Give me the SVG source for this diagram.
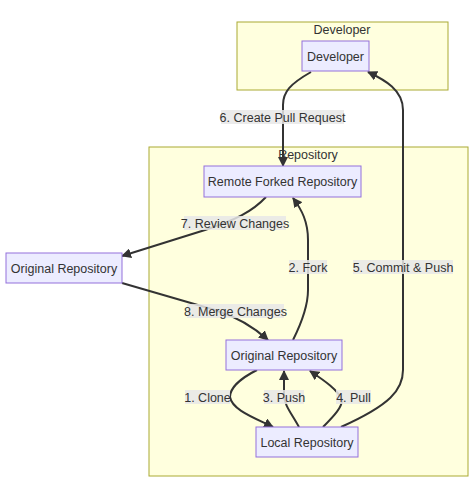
<svg xmlns="http://www.w3.org/2000/svg" width="474" height="499" viewBox="0 0 474 499">
<defs>
<marker id="arrow" viewBox="0 0 10 10" refX="9" refY="5" markerUnits="userSpaceOnUse" markerWidth="10" markerHeight="10" orient="auto">
<path d="M0,0 L10,5 L0,10 z" fill="#333333"/>
</marker>
<style>
.cluster rect{fill:#ffffde;stroke:#aaaa33;stroke-width:1}
.node rect{fill:#ECECFF;stroke:#9370DB;stroke-width:1}
text{font-family:"Liberation Sans",Arial,sans-serif;font-size:12.5px;fill:#333333}
.ctext{text-anchor:middle}
.edge{fill:none;stroke:#333333;stroke-width:2;marker-end:url(#arrow)}
.lbl rect{fill:#e8e8e8;fill-opacity:0.85}
.lbl text{text-anchor:middle}
</style>
</defs>
<rect width="474" height="499" fill="#ffffff"/>
<g id="cluster-developer" class="cluster">
<rect x="237" y="22" width="211" height="68"/>
<text class="ctext" x="342" y="34">Developer</text>
</g>
<g id="cluster-repository" class="cluster">
<rect x="149" y="147" width="319" height="329"/>
<text class="ctext" x="308" y="159">Repository</text>
</g>
<g id="connectors">
<path class="edge" d="M311,72 C290,84 283,92 283,105 L283,166"/>
<path class="edge" d="M266,197 C252,212 235,220 205,230 L122,256"/>
<path class="edge" d="M122,283 L215,310 C240,318 255,328 268,340"/>
<path class="edge" d="M293,340 C303,320 308,305 308,290 L308,240 C308,222 302,210 293,198"/>
<path class="edge" d="M341,427 C390,405 403,390 403,370 L403,110 C403,90 385,80 368,72"/>
<path class="edge" d="M257,370 C237,380 230,390 230,397 C232,410 255,418 273,427"/>
<path class="edge" d="M299,427 C292,414 284,405 284,395 L284,371"/>
<path class="edge" d="M323,427 C335,415 342,407 342,400 C338,390 325,381 310,371"/>
</g>
<g id="edge-labels">
<g class="lbl"><rect x="221" y="110" width="123" height="14"/><text x="282.5" y="121.5">6. Create Pull Request</text></g>
<g class="lbl"><rect x="184" y="216" width="102" height="14"/><text x="235" y="227.5">7. Review Changes</text></g>
<g class="lbl"><rect x="289" y="260" width="38" height="14"/><text x="308" y="271.5">2. Fork</text></g>
<g class="lbl"><rect x="353" y="260" width="100" height="14"/><text x="403" y="271.5">5. Commit &amp; Push</text></g>
<g class="lbl"><rect x="187" y="304" width="97" height="14"/><text x="235.5" y="315.5">8. Merge Changes</text></g>
<g class="lbl"><rect x="185" y="390" width="45" height="14"/><text x="207.5" y="401.5">1. Clone</text></g>
<g class="lbl"><rect x="264" y="390" width="40" height="14"/><text x="284" y="401.5">3. Push</text></g>
<g class="lbl"><rect x="336" y="390" width="35" height="14"/><text x="353.5" y="401.5">4. Pull</text></g>
</g>
<g id="node-developer" class="node">
<rect x="302" y="41" width="67" height="30"/>
<text class="ctext" x="335.5" y="60.5">Developer</text>
</g>
<g id="node-remote-forked" class="node">
<rect x="204" y="166" width="157" height="31"/>
<text class="ctext" x="282.5" y="186">Remote Forked Repository</text>
</g>
<g id="node-original-left" class="node">
<rect x="6" y="253" width="116" height="30"/>
<text class="ctext" x="64" y="272.5">Original Repository</text>
</g>
<g id="node-original-inner" class="node">
<rect x="226" y="340" width="116" height="30"/>
<text class="ctext" x="284" y="359.5">Original Repository</text>
</g>
<g id="node-local" class="node">
<rect x="256" y="427" width="102" height="30"/>
<text class="ctext" x="307" y="446.5">Local Repository</text>
</g>
</svg>
